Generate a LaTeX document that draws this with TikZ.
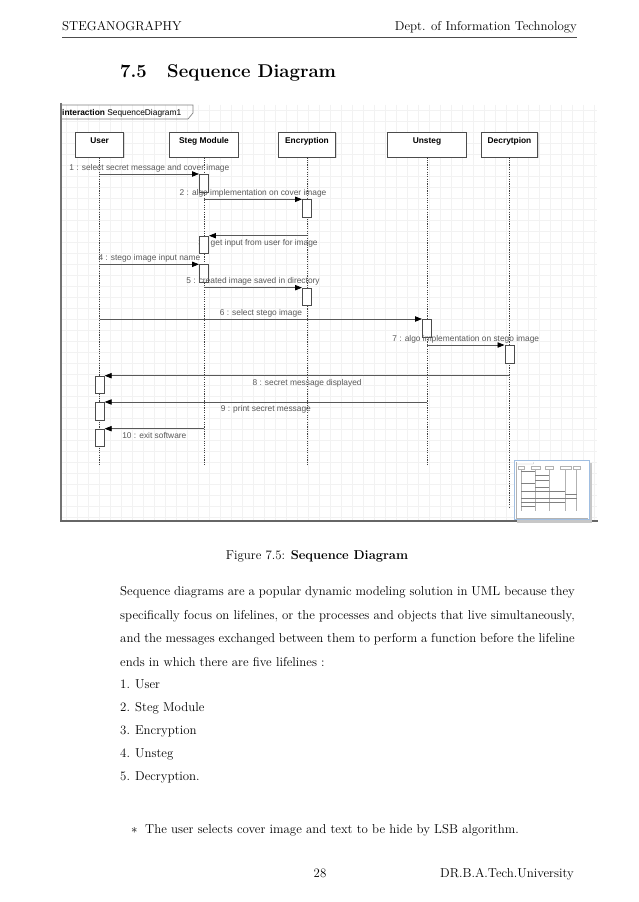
\documentclass[tikz,border=0pt]{standalone}
\usepackage{fontspec}
\newfontfamily\diagfont{Liberation Sans}
\usetikzlibrary{arrows.meta,shadows}
\pgfdeclarelayer{bg}
\pgfdeclarelayer{fg}
\pgfsetlayers{bg,main,fg}
\newcommand\dfont{\diagfont\fontsize{7.8}{9}\selectfont}
\definecolor{thumb}{RGB}{160,190,225}
\begin{document}
\begin{tikzpicture}[x=0.9326pt,y=-0.9326pt,
  head/.style={draw=black!70, line width=0.8pt, fill=white, inner xsep=0pt, inner ysep=0pt,
    minimum height=23.3pt, text height=10.9pt, text depth=12.4pt, font=\dfont\bfseries,
    drop shadow={shadow xshift=1pt,shadow yshift=-1pt,opacity=0.25}},
  act/.style={draw=black!70, line width=0.7pt, fill=white, minimum width=8.6pt,
    minimum height=16.4pt, inner sep=0pt, anchor=north},
  life/.style={draw=black!75, line width=0.7pt, dash pattern=on 1.1pt off 1.1pt},
  msg/.style={draw=black!65, line width=0.7pt, -{Triangle[length=6.5pt,width=5pt,black]}},
  lblA/.style={font=\dfont, text=black!65, inner sep=0pt, anchor=base, yshift=3.7pt},
  lblB/.style={font=\dfont, text=black!65, inner sep=0pt, anchor=base, yshift=-8.7pt},
  body/.style={font=\fontsize{12}{14.5}\selectfont, inner sep=0pt, anchor=base west},
  gridline/.style={draw=black!5, line width=0.3pt},
  mini/.style={draw=black!30, line width=0.25pt},
]
\useasboundingbox (0,0) rectangle (638,902);
\begin{pgfonlayer}{bg}
  \fill[white] (0,0) rectangle (638,902);
  \foreach \gx in {66,77,...,597} \draw[gridline] (\gx,105) -- (\gx,521);
  \foreach \gy in {110,121,...,521} \draw[gridline] (61,\gy) -- (597,\gy);
\end{pgfonlayer}

% header
\node[body] (hl) at (62,31) {STEGANOGRAPHY};
\node[body, anchor=base east] (hr) at (577,31) {Dept. of Information Technology};
\draw[line width=0.4pt, black!70] (62,37) -- (577,37);
\node[body, font=\fontsize{17.28}{20}\selectfont\bfseries] (secno) at (120,78) {7.5};
\node[body, font=\fontsize{17.28}{20}\selectfont\bfseries] (sectitle) at (167,78) {Sequence Diagram};

% diagram frame
\draw[black!55, line width=1pt] (61,103) -- (61,522);
\draw[black!60, line width=1pt] (60,521) -- (598,521);
\draw[black!50, line width=0.6pt] (61,105) -- (193,105) -- (193,113) -- (188,119) -- (61,119);
\node[font=\dfont, inner sep=0pt, anchor=base west] (frametitle) at (62,116) {\textbf{interaction} SequenceDiagram1};

% lifeline heads
\node[head, minimum width=44.8pt] (user) at (99.7,144.5) {User};
\node[head, minimum width=63.8pt] (steg) at (204,144.5) {Steg Module};
\node[head, minimum width=53.2pt] (enc) at (307,144.5) {Encryption};
\node[head, minimum width=73.1pt] (unsteg) at (427,144.5) {Unsteg};
\node[head, minimum width=52.8pt] (decr) at (509.5,144.5) {Decrytpion};
\coordinate (yend) at (0,466);
\coordinate (yendd) at (0,507);
\draw[life] (user.south) -- (user.south |- yend);
\draw[life] (steg.south) -- (steg.south |- yend);
\draw[life] (enc.south) -- (enc.south |- yend);
\draw[life] (unsteg.south) -- (unsteg.south |- yend);
\draw[life] (decr.south) -- (decr.south |- yendd);

% activations
\node[act] (a1) at (204,174) {};
\node[act] (a2) at (307,199.3) {};
\begin{pgfonlayer}{fg}
\node[act] (a3) at (204,235.7) {};
\end{pgfonlayer}
\node[act] (a4) at (204,264.3) {};
\node[act] (a5) at (307,287.7) {};
\node[act] (a6) at (427,319) {};
\node[act] (a7) at (509.5,345) {};
\node[act] (a8) at (99.7,375.7) {};
\node[act] (a9) at (99.7,402) {};
\node[act] (a10) at (99.7,428.7) {};

% messages
\draw[msg] (user |- a1.north) -- node[lblA]{1 : select secret message and cover image} (a1.north west);
\draw[msg] (steg |- a2.north) -- node[lblA]{2 : algo implementation on cover image} (a2.north west);
\draw[msg] (enc |- a3.north) -- node[lblB]{3 : get input from user for image} (a3.north east);
\draw[msg] (user |- a4.north) -- node[lblA]{4 : stego image input name} (a4.north west);
\draw[msg] (steg |- a5.north) -- node[lblA]{5 : created image saved in directory} (a5.north west);
\draw[msg] (user |- a6.north) -- node[lblA]{6 : select stego image} (a6.north west);
\draw[msg] (unsteg |- a7.north) -- node[lblA]{7 : algo implementation on stego image} (a7.north west);
\draw[msg] (decr |- a8.north) -- node[lblB]{8 : secret message displayed} (a8.north east);
\draw[msg] (unsteg |- a9.north) -- node[lblB]{9 : print secret message} (a9.north east);
\draw[msg] (steg |- a10.north) -- node[lblB]{10 : exit software} (a10.north east);

% thumbnail
\fill[black!22] (517,519) rectangle (592,522.5);
\fill[black!22] (589,463) rectangle (592,522.5);
\draw[thumb, line width=0.9pt, fill=white] (514,460) rectangle (589,519);
\begin{scope}[shift={(516,462)}, scale=0.135, shift={(-61,-105)}]
  \draw[mini] (61,105) -- (61,521) -- (597,521);
  \draw[mini] (61,119) -- (188,119) -- (193,113) -- (193,105);
  \foreach \cx/\w in {99.7/48, 204/68, 307/57, 427/78, 509.5/57} {
    \draw[mini] ({\cx-\w/2},132) rectangle ({\cx+\w/2},157);
    \draw[mini, dash pattern=on 0.4pt off 0.4pt] (\cx,157) -- (\cx,466);
  }
  \foreach \xa/\xb/\yy in {99.7/204/174, 204/307/199, 307/204/236, 99.7/204/264, 204/307/288,
      99.7/427/319, 427/509.5/345, 509.5/99.7/376, 427/99.7/402, 204/99.7/429} {
    \draw[mini, draw=black!50] (\xa,\yy) -- (\xb,\yy);
  }
\end{scope}

% caption and body
\node[body, anchor=base] (cap) at (317,559) {Figure 7.5: \textbf{Sequence Diagram}};
\node[body] (p1) at (120,595) {\makebox[423.9pt][s]{Sequence diagrams are a popular dynamic modeling solution in UML because they}};
\node[body] (p2) at (120,619) {\makebox[423.9pt][s]{specifically focus on lifelines, or the processes and objects that live simultaneously,}};
\node[body] (p3) at (120,642) {\makebox[423.9pt][s]{and the messages exchanged between them to perform a function before the lifeline}};
\node[body] (p4) at (120,666) {ends in which there are five lifelines :};
\node[body] (l1) at (120,688) {1.\hspace{0.4em}User};
\node[body] (l2) at (120,711) {2.\hspace{0.4em}Steg Module};
\node[body] (l3) at (120,734) {3.\hspace{0.4em}Encryption};
\node[body] (l4) at (120,757) {4.\hspace{0.4em}Unsteg};
\node[body] (l5) at (120,780) {5.\hspace{0.4em}Decryption.};
\node[body] (star) at (131,833) {$\ast$};
\node[body] (s1) at (145,833) {The user selects cover image and text to be hide by LSB algorithm.};
\node[body, anchor=base] (pg) at (320,877) {28};
\node[body, anchor=base east] (uni) at (574,877) {DR.B.A.Tech.University};
\end{tikzpicture}
\end{document}
